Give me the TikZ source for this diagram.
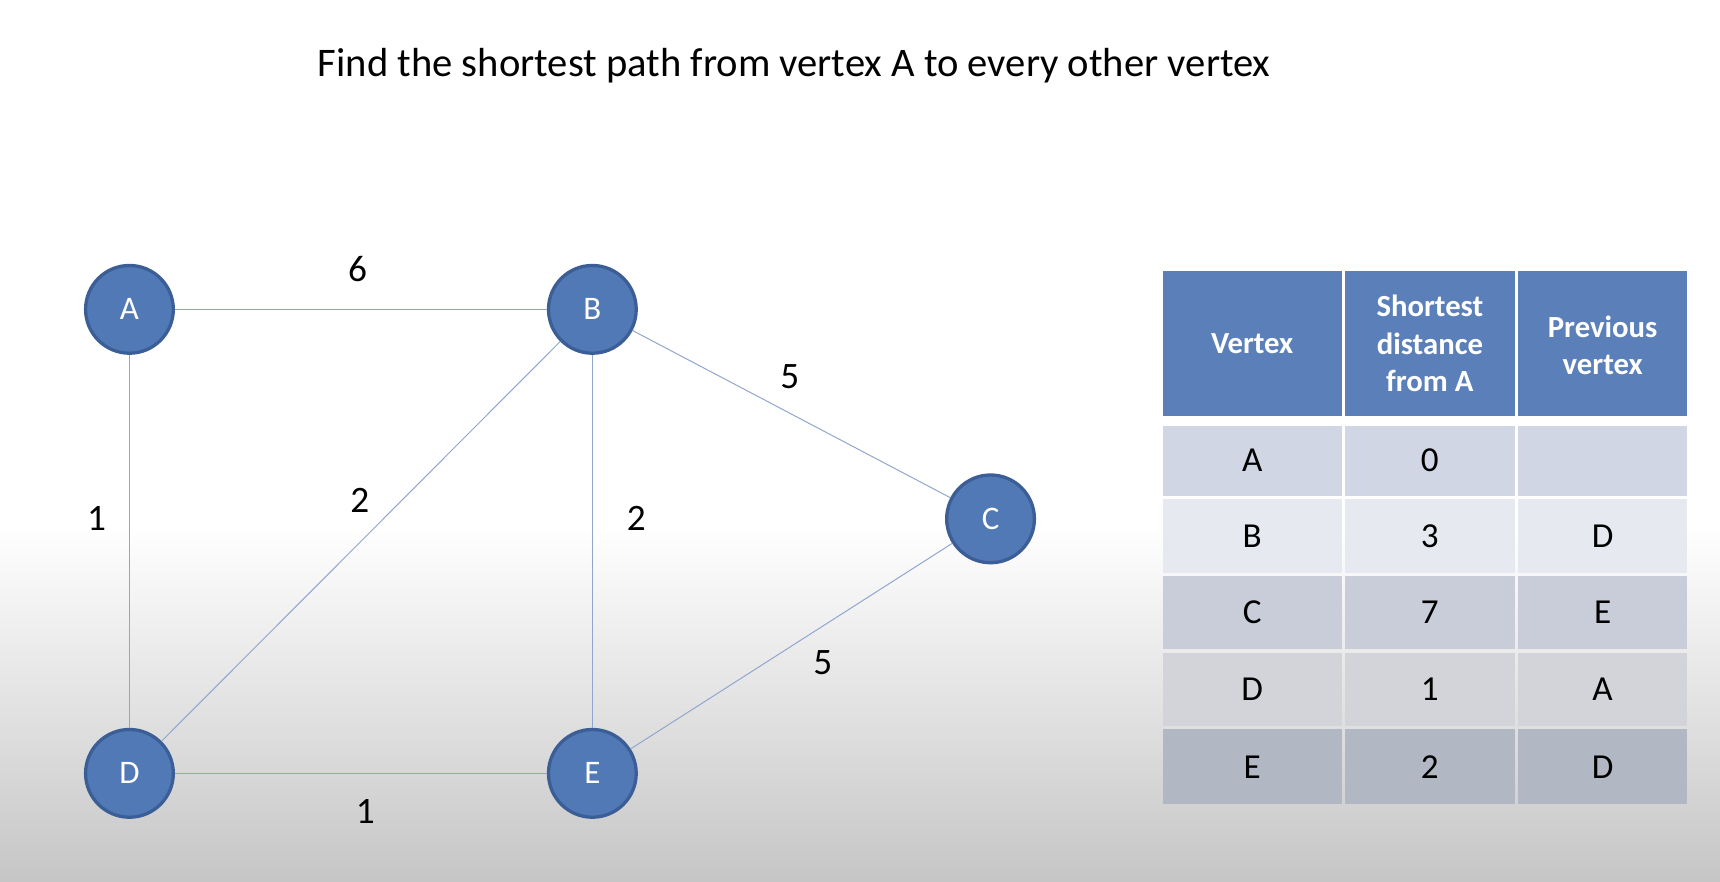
\documentclass[tikz,border=0pt]{standalone}
\usepackage{fontspec}
\setmainfont{Carlito}
\begin{document}
\begin{tikzpicture}[x=1pt,y=-1pt,
  vtx/.style={circle,minimum size=80pt,inner sep=0pt,fill=vfill,draw=vborder,line width=3pt,text=white,font=\fontsize{30}{30}\selectfont},
  edge/.style={draw=edgec,line width=0.9pt},
  wlab/.style={font=\fontsize{34}{34}\selectfont,text=black},
  cell/.style={minimum height=0pt,inner sep=0pt,font=\fontsize{32}{32}\selectfont},
  hcell/.style={inner sep=0pt,align=center,text=white,font=\bfseries\fontsize{28}{34}\selectfont}]
\definecolor{vfill}{HTML}{5179B6}
\definecolor{vborder}{HTML}{3B5E96}
\definecolor{edgec}{HTML}{90A6CE}
\definecolor{hdr}{HTML}{5B80B9}
\definecolor{rA}{HTML}{D0D6E3}
\definecolor{rB}{HTML}{E7E9F0}
\definecolor{rC}{HTML}{C8CDD9}
\definecolor{rD}{HTML}{D3D4D9}
\definecolor{rE}{HTML}{B2B7C4}
\useasboundingbox (0,0) rectangle (1568,804);
\fill[white] (0,0) rectangle (1568,480);
\shade[top color=white,bottom color=gray!45] (0,480) rectangle (1568,804);
\node[font=\fontsize{37}{37}\selectfont] (title) at (724,60) {Find the shortest path from vertex A to every other vertex};
% graph
\node[vtx] (A) at (118,282) {A};
\node[vtx] (B) at (540,282) {B};
\node[vtx] (C) at (903,473) {C};
\node[vtx] (D) at (118,705) {D};
\node[vtx] (E) at (540,705) {E};
\begin{scope}[on background layer/.style={}]
\end{scope}
\path[edge] (A) -- (B);
\path[edge] (A) -- (D);
\path[edge] (B) -- (D);
\path[edge] (B) -- (E);
\path[edge] (B) -- (C);
\path[edge] (C) -- (E);
\path[edge] (D) -- (E);
\node[wlab] (w1) at (326,245) {6};
\node[wlab] (w2) at (88,473) {1};
\node[wlab] (w3) at (328,456) {2};
\node[wlab] (w4) at (580,473) {2};
\node[wlab] (w5) at (720,343) {5};
\node[wlab] (w6) at (750,604) {5};
\node[wlab] (w7) at (333,740) {1};
% table
\fill[hdr] (1060,247) rectangle (1223,379);
\fill[hdr] (1226,247) rectangle (1381,379);
\fill[hdr] (1384,247) rectangle (1538,379);
\node[hcell] (h1) at (1141.5,313) {Vertex};
\node[hcell] (h2) at (1303.5,313) {Shortest\\distance\\from A};
\node[hcell] (h3) at (1461,315) {Previous\\vertex};
\foreach \r/\ya/\yb/\c/\a/\b/\cc in {1/388/452/rA/A/0/{},2/455/522/rB/B/3/D,3/525/592/rC/C/7/E,4/595/662/rD/D/1/A,5/665/733/rE/E/2/D}{
  \fill[\c] (1060,\ya) rectangle (1223,\yb);
  \fill[\c] (1226,\ya) rectangle (1381,\yb);
  \fill[\c] (1384,\ya) rectangle (1538,\yb);
  \node[cell] (c\r a) at (1141.5,{(\ya+\yb)/2}) {\a};
  \node[cell] (c\r b) at (1303.5,{(\ya+\yb)/2}) {\b};
  \node[cell] (c\r c) at (1461,{(\ya+\yb)/2}) {\cc};
}
\end{tikzpicture}
\end{document}
